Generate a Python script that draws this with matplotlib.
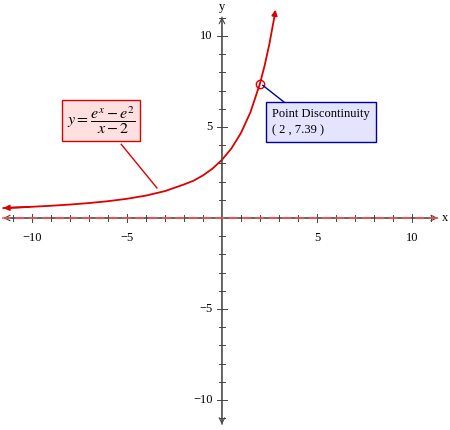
import matplotlib
matplotlib.use("Agg")
import matplotlib.pyplot as plt

plt.rcParams['font.family'] = ['Liberation Serif', 'DejaVu Serif']
plt.rcParams['mathtext.fontset'] = 'stix'

# curve samples of y=(e^x-e^2)/(x-2)
xs = [-11.5, -10, -9, -8, -7, -6, -5, -4, -3, -2, -1.5, -1, -0.5, 0, 0.5, 1, 1.5, 2, 2.25, 2.5, 2.75, 2.8]
ys = [0.547, 0.616, 0.672, 0.739, 0.821, 0.924, 1.056, 1.232, 1.478, 1.843, 2.047, 2.340, 2.713, 3.195, 3.827, 4.671, 5.814, 7.389, 8.396, 9.586, 11.005, 11.31]
hole = (2, 7.39)
ticks = [-10, -5, 5, 10]

fig = plt.figure(figsize=(4.5, 4.3), dpi=100)
ax = fig.add_axes([0, 0, 1, 1])
ax.set_xlim(-11.68, 12.0)
ax.set_ylim(-11.65, 11.98)
ax.axis('off')

red = '#dd0000'
# axes
ax.annotate('', xy=(-11.65, 0), xytext=(11.5, 0), arrowprops=dict(arrowstyle='->', color='#444', lw=0.8))
ax.annotate('', xy=(11.5, 0), xytext=(-11.6, 0), arrowprops=dict(arrowstyle='->', color='#444', lw=0.8))
ax.annotate('', xy=(0, 11.2), xytext=(0, -11.5), arrowprops=dict(arrowstyle='->', color='#444', lw=0.8))
ax.annotate('', xy=(0, -11.5), xytext=(0, 11.2), arrowprops=dict(arrowstyle='->', color='#444', lw=0.8))
ax.text(11.75, 0, 'x', va='center', ha='center', fontsize=9)
ax.text(0, 11.95, 'y', va='top', ha='center', fontsize=9)
for t in range(-11, 12):
    if t == 0:
        continue
    L = 0.25 if t % 5 == 0 else 0.15
    ax.plot([t, t], [-L * 0.95, L * 0.95], color='#444', lw=0.7)
    ax.plot([-L, L], [t, t], color='#444', lw=0.7)
for t in ticks:
    ax.text(t, -0.75, f'{t}'.replace('-', '\u2212'), ha='center', va='top', fontsize=9)
    ax.text(-0.5, t, f'{t}'.replace('-', '\u2212'), ha='right', va='center', fontsize=9)

# asymptote
ax.plot([-11.6, 11.4], [0, 0], color='#ff5555', lw=1.6, ls=(0, (4, 2)), alpha=0.75, zorder=3)

ax.plot(xs, ys, color=red, lw=1.3)
ax.annotate('', xy=(xs[0] - 0.15, ys[0] - 0.01), xytext=(xs[1], ys[1]),
            arrowprops=dict(arrowstyle='-|>', color=red, lw=1.3, mutation_scale=8))
ax.annotate('', xy=(2.84, 11.6), xytext=(xs[-2], ys[-2]),
            arrowprops=dict(arrowstyle='-|>', color=red, lw=1.3, mutation_scale=8))
ax.plot([hole[0]], [hole[1]], 'o', mfc='none', mec=red, ms=6, mew=1)

# labels
ax.plot([-5.3, -3.42], [4.05, 1.65], color=red, lw=1)
ax.text(-6.37, 5.38, r'$y=\dfrac{e^x-e^2}{x-2}$', ha='center', va='center', fontsize=11.5,
        bbox=dict(boxstyle='square,pad=0.3', fc='#ffe0e0', ec=red, lw=1))
ax.plot([hole[0] + 0.15, 3.35], [hole[1] - 0.1, 6.3], color='#000099', lw=1)
ax.text(2.65, 5.27, 'Point Discontinuity\n( 2 , 7.39 )', ha='left', va='center', fontsize=9,
        linespacing=1.4, bbox=dict(boxstyle='square,pad=0.5', fc='#e4e4ff', ec='#000099', lw=1))

fig.savefig('out.png', dpi=100)
